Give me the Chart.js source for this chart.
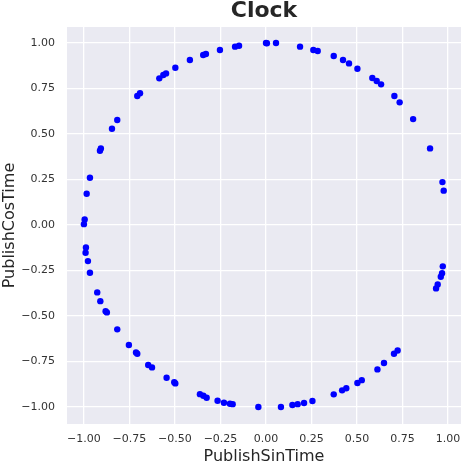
<!DOCTYPE html>
<html>
<head>
<meta charset="utf-8">
<script src="https://cdn.jsdelivr.net/npm/chart.js@4/dist/chart.umd.min.js"></script>
<style>
  html, body { margin: 0; padding: 0; background: #ffffff; }
  #wrap { width: 474px; height: 466px; }
</style>
</head>
<body>
<div id="wrap"><canvas id="clockChart" width="474" height="466"></canvas></div>
<script>
// values
const sinValues = [
  0.0, 0.005, -0.148, -0.17, -0.253, -0.33, -0.345, -0.418, -0.498, -0.549, -0.564, -0.586,
  -0.692, -0.707, -0.817, -0.846, -0.907, -0.912, -0.967, -0.985, -0.996, -1.0,
  0.055, 0.187, 0.26, 0.284, 0.372, 0.423, 0.456, 0.502, 0.584, 0.608, 0.632,
  0.705, 0.734, 0.808, 0.901, 0.969, 0.976,
  -0.989, -0.991, -0.978, -0.967, -0.927, -0.91, -0.881, -0.874, -0.817, -0.753,
  -0.714, -0.707, -0.647, -0.626, -0.546, -0.504, -0.498, -0.363, -0.344, -0.326,
  -0.266, -0.231, -0.198, -0.183, -0.042,
  0.082, 0.145, 0.174, 0.209, 0.255, 0.372, 0.418, 0.441, 0.502, 0.526,
  0.612, 0.648, 0.703, 0.723, 0.934, 0.943, 0.96, 0.967, 0.971
];
const cosValues = [
  1.0, 0.999, 0.985, 0.98, 0.962, 0.94, 0.934, 0.907, 0.864, 0.833, 0.824, 0.806,
  0.724, 0.709, 0.577, 0.529, 0.421, 0.408, 0.26, 0.172, 0.031, 0.005,
  1.0, 0.98, 0.962, 0.956, 0.929, 0.907, 0.888, 0.859, 0.808, 0.791, 0.773,
  0.709, 0.674, 0.582, 0.421, 0.236, 0.189,
  -0.123, -0.152, -0.198, -0.262, -0.37, -0.418, -0.473, -0.48, -0.573, -0.659,
  -0.7, -0.707, -0.769, -0.782, -0.839, -0.863, -0.87, -0.929, -0.938, -0.949,
  -0.965, -0.976, -0.982, -0.984, -1.0,
  -1.0, -0.989, -0.984, -0.978, -0.967, -0.93, -0.908, -0.897, -0.868, -0.852,
  -0.793, -0.758, -0.707, -0.689, -0.348, -0.326, -0.284, -0.265, -0.227
];
const tickValues = [-1.0, -0.75, -0.5, -0.25, 0.0, 0.25, 0.5, 0.75, 1.0];
const tickLabels = ["\u22121.00", "\u22120.75", "\u22120.50", "\u22120.25", "0.00", "0.25", "0.50", "0.75", "1.00"];

const points = sinValues.map((s, i) => ({ x: s, y: cosValues[i] }));

function labelFor(value){
  const i = tickValues.findIndex(v => Math.abs(v - value) < 1e-9);
  return i >= 0 ? tickLabels[i] : "";
}

const plotBackground = {
  id: "plotBackground",
  beforeDraw(chart){
    const a = chart.chartArea;
    const ctx = chart.ctx;
    ctx.save();
    ctx.fillStyle = "#eaeaf2";
    ctx.fillRect(a.left, a.top, a.right - a.left, a.bottom - a.top);
    ctx.restore();
  }
};

const tickFont = { family: "DejaVu Sans", size: 11 };
const titleFont = { family: "DejaVu Sans", size: 16 };

new Chart(document.getElementById("clockChart"), {
  type: "scatter",
  data: {
    datasets: [{
      data: points,
      backgroundColor: "#0000ff",
      borderColor: "#0000ff",
      borderWidth: 0,
      pointRadius: 3.2,
      pointHoverRadius: 3.2
    }]
  },
  plugins: [plotBackground],
  options: {
    responsive: false,
    animation: false,
    layout: { padding: { left: 0, right: 13, top: 0, bottom: 0 } },
    plugins: {
      legend: { display: false },
      tooltip: { enabled: false },
      title: {
        display: true,
        text: "Clock",
        fullSize: false,
        color: "#262626",
        font: { family: "DejaVu Sans", size: 22, weight: "bold", lineHeight: 1.0 },
        padding: { top: 0, bottom: 5 }
      }
    },
    scales: {
      x: {
        type: "linear",
        min: -1.093,
        max: 1.071,
        afterBuildTicks: s => { s.ticks = tickValues.map(v => ({ value: v })); },
        afterFit: s => { s.height = 42; s.paddingLeft = 0; s.paddingRight = 0; },
        grid: { color: "#ffffff", lineWidth: 1.3, drawTicks: false },
        border: { display: false },
        ticks: { color: "#333333", font: tickFont, padding: 9, maxRotation: 0, autoSkip: false, callback: v => labelFor(v) },
        title: { display: true, text: "PublishSinTime", color: "#262626", font: titleFont, padding: 0 }
      },
      y: {
        type: "linear",
        min: -1.093,
        max: 1.088,
        afterBuildTicks: s => { s.ticks = tickValues.map(v => ({ value: v })); },
        afterFit: s => { s.width = 67; s.paddingTop = 0; s.paddingBottom = 0; },
        grid: { color: "#ffffff", lineWidth: 1.3, drawTicks: false },
        border: { display: false },
        ticks: { color: "#333333", font: tickFont, padding: 12, autoSkip: false, callback: v => labelFor(v) },
        title: { display: true, text: "PublishCosTime", color: "#262626", font: titleFont, padding: 0 }
      }
    }
  }
});
</script>
</body>
</html>
